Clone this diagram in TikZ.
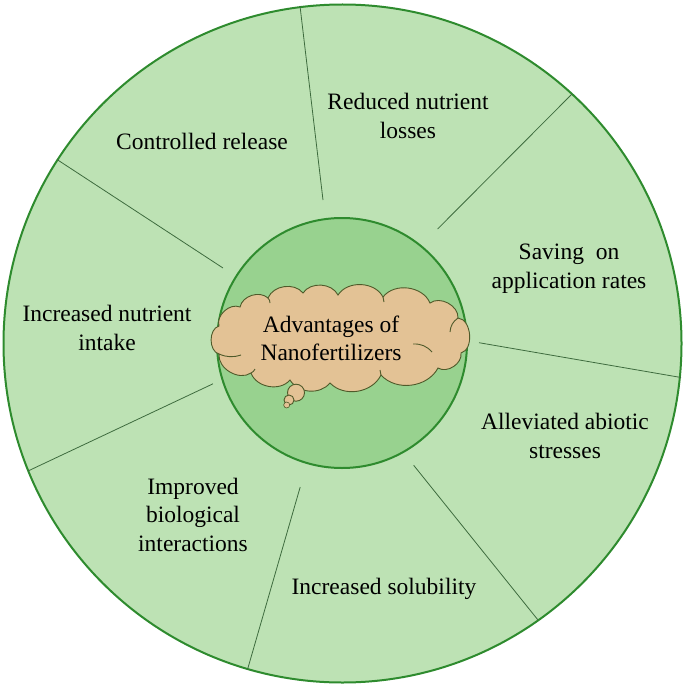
\documentclass[tikz,border=0pt]{standalone}
\usepackage{fontspec}
\setmainfont{Liberation Serif}
\newfontfamily\lserif{Liberation Serif}
\definecolor{outerfill}{HTML}{BDE2B4}
\definecolor{innerfill}{HTML}{98D28F}
\definecolor{ringline}{HTML}{2E8B2E}
\definecolor{spoke}{HTML}{3E6B3E}
\definecolor{cloudfill}{HTML}{E3C295}
\definecolor{cloudline}{HTML}{4F5A2A}
\begin{document}
\begin{tikzpicture}[x=1pt,y=-1pt,
  ring/.style={draw=ringline,line width=2pt},
  spokeline/.style={draw=spoke,line width=0.8pt},
  label/.style={align=center,inner sep=0pt,font=\lserif\fontsize{23.5}{28.5}\selectfont,text=black},
  bubble/.style={draw=cloudline,fill=cloudfill,line width=0.9pt},
  puffline/.style={draw=cloudline,line width=0.9pt}]
\useasboundingbox (0,0) rectangle (685,687);
% outer disc
\node[circle,ring,fill=outerfill,minimum size=678pt,inner sep=0pt] (outer) at (342.5,343.5) {};
% spokes
\coordinate (i1) at (323,200);   \coordinate (o1) at (300,6);
\coordinate (i2) at (437.6,229); \coordinate (o2) at (572,94);
\coordinate (i3) at (479,342.7); \coordinate (o3) at (681,377.5);
\coordinate (i4) at (413.6,465.2); \coordinate (o4) at (538,620);
\coordinate (i5) at (300.2,487); \coordinate (o5) at (247.5,669.5);
\coordinate (i6) at (213,383.8); \coordinate (o6) at (28,471);
\coordinate (i7) at (223,268);   \coordinate (o7) at (57,159.5);
\foreach \k in {1,...,7} {\draw[spokeline] (i\k) -- (o\k);}
% inner disc
\node[circle,ring,fill=innerfill,minimum size=250pt,inner sep=0pt] (inner) at (342,343) {};
% cloud outline (cusps)
\coordinate (c1) at (219,354);
\coordinate (c2) at (219,326);
\coordinate (c3) at (240,307);
\coordinate (c4) at (268,298);
\coordinate (c5) at (303,293);
\coordinate (c6) at (338,295);
\coordinate (c7) at (383,297);
\coordinate (c8) at (430,303);
\coordinate (c9) at (458,318);
\coordinate (c10) at (461,353);
\coordinate (c11) at (438,368);
\coordinate (c12) at (381,375);
\coordinate (c13) at (330,383);
\coordinate (c14) at (290,380);
\coordinate (c15) at (251,373);
\path[bubble] (c1) to[bend left=75] (c2) to[bend left=65] (c3) to[bend left=60] (c4)
  to[bend left=60] (c5) to[bend left=60] (c6) to[bend left=60] (c7) to[bend left=60] (c8)
  to[bend left=65] (c9) to[bend left=80] (c10) to[bend left=65] (c11) to[bend left=55] (c12)
  to[bend left=55] (c13) to[bend left=55] (c14) to[bend left=60] (c15) to[bend left=65] (c1) -- cycle;
% inner puff strokes
\draw[puffline] (c1) to[bend right=20] (241,355);
\draw[puffline] (c9) ++(-8,14) to[bend left=25] (c9);
\draw[puffline] (413,344) to[bend left=25] (432,352);
\draw[puffline] (c15) to[bend right=20] ++(4,-4);
\draw[puffline] (c4) to[bend left=20] ++(2,5);
\draw[puffline] (c7) to[bend left=20] ++(1,5);
\draw[puffline] (c12) to[bend right=20] ++(-1,-5);
% thought bubbles
\node[circle,bubble,minimum size=17pt,inner sep=0pt] (b1) at (296,392.7) {};
\node[circle,bubble,minimum size=10pt,inner sep=0pt] (b2) at (289,400) {};
\node[circle,bubble,line width=0.6pt,minimum size=6pt,inner sep=0pt] (b3) at (286.7,405) {};
% texts
\node[label] (title) at (331,338.5) {Advantages of\\Nanofertilizers};
\node[label] (t1) at (202,141) {Controlled release};
\node[label] (t2) at (408,116) {Reduced nutrient\\losses};
\node[label] (t3) at (569,268.5) {Saving\hspace{0.25em} on\\application rates};
\node[label] (t4) at (565,436) {Alleviated abiotic\\stresses};
\node[label] (t5) at (384,589) {Increased solubility};
\node[label] (t6) at (193,514.5) {Improved\\biological\\interactions};
\node[label] (t7) at (107,328) {Increased nutrient\\intake};
\end{tikzpicture}
\end{document}
